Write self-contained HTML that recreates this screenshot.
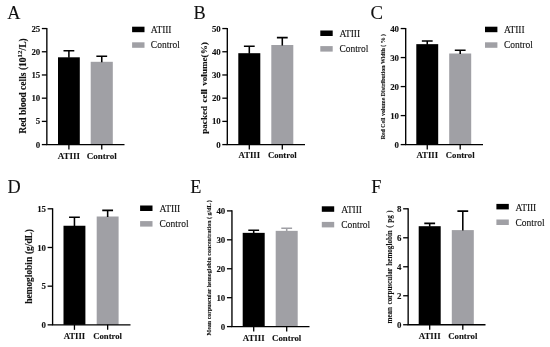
<!DOCTYPE html>
<html><head><meta charset="utf-8"><title>Figure</title>
<style>
html,body{margin:0;padding:0;background:#fff;}
svg{display:block;}
text{stroke:#111;stroke-width:0.1px;font-family:"Liberation Serif","Times New Roman",serif;fill:#111;}
.b{font-weight:bold;}
</style></head><body>
<svg width="550" height="347" viewBox="0 0 550 347">
<rect width="550" height="347" fill="#fff"/>

<g>
<text x="7.2" y="19.05" font-size="18.3">A</text>
<rect x="58.00" y="57.30" width="21.80" height="87.30" fill="#000"/>
<path d="M68.90 57.80V50.75M63.50 50.75H74.30" stroke="#000" stroke-width="1.55" fill="none"/>
<rect x="90.70" y="61.80" width="22.10" height="82.80" fill="#a0a0a5"/>
<path d="M101.75 62.30V56.30M96.35 56.30H107.15" stroke="#000" stroke-width="1.55" fill="none"/>
<path d="M46.85 27.95V145.25M46.35 144.60H124.50" stroke="#000" stroke-width="1.35" fill="none"/>
<path d="M41.85 144.60H46.85" stroke="#000" stroke-width="1.3"/>
<text class="b" x="40.05" y="147.65" font-size="8.9" letter-spacing="-0.15" text-anchor="end">0</text>
<path d="M41.85 121.39H46.85" stroke="#000" stroke-width="1.3"/>
<text class="b" x="40.05" y="124.44" font-size="8.9" letter-spacing="-0.15" text-anchor="end">5</text>
<path d="M41.85 98.18H46.85" stroke="#000" stroke-width="1.3"/>
<text class="b" x="40.05" y="101.23" font-size="8.9" letter-spacing="-0.15" text-anchor="end">10</text>
<path d="M41.85 74.97H46.85" stroke="#000" stroke-width="1.3"/>
<text class="b" x="40.05" y="78.02" font-size="8.9" letter-spacing="-0.15" text-anchor="end">15</text>
<path d="M41.85 51.76H46.85" stroke="#000" stroke-width="1.3"/>
<text class="b" x="40.05" y="54.81" font-size="8.9" letter-spacing="-0.15" text-anchor="end">20</text>
<path d="M41.85 28.55H46.85" stroke="#000" stroke-width="1.3"/>
<text class="b" x="40.05" y="31.60" font-size="8.9" letter-spacing="-0.15" text-anchor="end">25</text>
<path d="M68.90 144.60V149.60" stroke="#000" stroke-width="1.3"/>
<text class="b" x="68.90" y="158.5" font-size="9" text-anchor="middle">ATIII</text>
<path d="M101.75 144.60V149.60" stroke="#000" stroke-width="1.3"/>
<text class="b" x="101.75" y="158.5" font-size="9" text-anchor="middle">Control</text>
<text class="b" transform="translate(26.0 86.0) rotate(-90) scale(1 1)" font-size="9.5" word-spacing="0" text-anchor="middle">Red blood cells (10<tspan font-size="7" dy="-3.7">12</tspan><tspan dy="3.7">/L)</tspan></text>
<rect x="132.1" y="26.7" width="12.4" height="5.5" fill="#000"/>
<rect x="132.1" y="42.3" width="12.4" height="5.5" fill="#a0a0a5"/>
<text x="150.8" y="33.10" font-size="9.5" letter-spacing="-0.1">ATIII</text>
<text x="150.8" y="48.20" font-size="9.5">Control</text>
</g>
<g>
<text x="193.5" y="19.1" font-size="18.3">B</text>
<rect x="238.30" y="53.20" width="22.00" height="91.40" fill="#000"/>
<path d="M249.30 53.70V46.20M243.90 46.20H254.70" stroke="#000" stroke-width="1.55" fill="none"/>
<rect x="271.30" y="45.00" width="22.00" height="99.60" fill="#a0a0a5"/>
<path d="M282.30 45.50V37.60M276.90 37.60H287.70" stroke="#000" stroke-width="1.55" fill="none"/>
<path d="M227.30 27.95V145.25M226.80 144.60H305.00" stroke="#000" stroke-width="1.35" fill="none"/>
<path d="M222.30 144.60H227.30" stroke="#000" stroke-width="1.3"/>
<text class="b" x="220.50" y="147.65" font-size="8.9" letter-spacing="-0.15" text-anchor="end">0</text>
<path d="M222.30 121.39H227.30" stroke="#000" stroke-width="1.3"/>
<text class="b" x="220.50" y="124.44" font-size="8.9" letter-spacing="-0.15" text-anchor="end">10</text>
<path d="M222.30 98.18H227.30" stroke="#000" stroke-width="1.3"/>
<text class="b" x="220.50" y="101.23" font-size="8.9" letter-spacing="-0.15" text-anchor="end">20</text>
<path d="M222.30 74.97H227.30" stroke="#000" stroke-width="1.3"/>
<text class="b" x="220.50" y="78.02" font-size="8.9" letter-spacing="-0.15" text-anchor="end">30</text>
<path d="M222.30 51.76H227.30" stroke="#000" stroke-width="1.3"/>
<text class="b" x="220.50" y="54.81" font-size="8.9" letter-spacing="-0.15" text-anchor="end">40</text>
<path d="M222.30 28.55H227.30" stroke="#000" stroke-width="1.3"/>
<text class="b" x="220.50" y="31.60" font-size="8.9" letter-spacing="-0.15" text-anchor="end">50</text>
<path d="M249.30 144.60V149.60" stroke="#000" stroke-width="1.3"/>
<text class="b" x="249.30" y="158.4" font-size="8.7" text-anchor="middle">ATIII</text>
<path d="M282.30 144.60V149.60" stroke="#000" stroke-width="1.3"/>
<text class="b" x="282.30" y="158.4" font-size="8.7" text-anchor="middle">Control</text>
<text class="b" transform="translate(207 88.0) rotate(-90) scale(1 1)" font-size="9.15" word-spacing="1.2" text-anchor="middle">packed cell volume(%)</text>
<rect x="320.3" y="30.5" width="12.4" height="5.5" fill="#000"/>
<rect x="320.3" y="46.1" width="12.4" height="5.5" fill="#a0a0a5"/>
<text x="339.4" y="36.90" font-size="9.5" letter-spacing="-0.1">ATIII</text>
<text x="339.4" y="52.00" font-size="9.5">Control</text>
</g>
<g>
<text x="370.6" y="19.35" font-size="18.8">C</text>
<rect x="416.30" y="44.15" width="21.90" height="100.45" fill="#000"/>
<path d="M427.25 44.65V41.00M421.85 41.00H432.65" stroke="#000" stroke-width="1.55" fill="none"/>
<rect x="449.20" y="53.50" width="22.00" height="91.10" fill="#a0a0a5"/>
<path d="M460.20 54.00V50.30M454.80 50.30H465.60" stroke="#000" stroke-width="1.55" fill="none"/>
<path d="M405.70 27.95V145.25M405.20 144.60H483.00" stroke="#000" stroke-width="1.35" fill="none"/>
<path d="M400.70 144.60H405.70" stroke="#000" stroke-width="1.3"/>
<text class="b" x="398.90" y="147.65" font-size="8.9" letter-spacing="-0.15" text-anchor="end">0</text>
<path d="M400.70 115.59H405.70" stroke="#000" stroke-width="1.3"/>
<text class="b" x="398.90" y="118.64" font-size="8.9" letter-spacing="-0.15" text-anchor="end">10</text>
<path d="M400.70 86.57H405.70" stroke="#000" stroke-width="1.3"/>
<text class="b" x="398.90" y="89.62" font-size="8.9" letter-spacing="-0.15" text-anchor="end">20</text>
<path d="M400.70 57.56H405.70" stroke="#000" stroke-width="1.3"/>
<text class="b" x="398.90" y="60.61" font-size="8.9" letter-spacing="-0.15" text-anchor="end">30</text>
<path d="M400.70 28.55H405.70" stroke="#000" stroke-width="1.3"/>
<text class="b" x="398.90" y="31.60" font-size="8.9" letter-spacing="-0.15" text-anchor="end">40</text>
<path d="M427.25 144.60V149.60" stroke="#000" stroke-width="1.3"/>
<text class="b" x="427.25" y="158.4" font-size="8.7" text-anchor="middle">ATIII</text>
<path d="M460.20 144.60V149.60" stroke="#000" stroke-width="1.3"/>
<text class="b" x="460.20" y="158.4" font-size="8.7" text-anchor="middle">Control</text>
<text class="b" transform="translate(384.8 86.6) rotate(-90) scale(1 1)" font-size="5.9" word-spacing="0" text-anchor="middle">Red Cell volume Distribution Width ( % )</text>
<rect x="485" y="26.7" width="12.4" height="5.5" fill="#000"/>
<rect x="485" y="42.3" width="12.4" height="5.5" fill="#a0a0a5"/>
<text x="503.9" y="33.10" font-size="9.5" letter-spacing="-0.1">ATIII</text>
<text x="503.9" y="48.20" font-size="9.5">Control</text>
</g>
<g>
<text x="7.4" y="193.15" font-size="18.3">D</text>
<rect x="63.50" y="225.75" width="21.90" height="99.10" fill="#000"/>
<path d="M74.45 226.25V217.25M69.05 217.25H79.85" stroke="#000" stroke-width="1.55" fill="none"/>
<rect x="96.70" y="216.50" width="21.90" height="108.35" fill="#a0a0a5"/>
<path d="M107.65 217.00V210.35M102.25 210.35H113.05" stroke="#000" stroke-width="1.55" fill="none"/>
<path d="M52.60 208.20V325.50M52.10 324.85H130.50" stroke="#000" stroke-width="1.35" fill="none"/>
<path d="M47.60 324.85H52.60" stroke="#000" stroke-width="1.3"/>
<text class="b" x="45.80" y="327.90" font-size="8.9" letter-spacing="-0.15" text-anchor="end">0</text>
<path d="M47.60 286.17H52.60" stroke="#000" stroke-width="1.3"/>
<text class="b" x="45.80" y="289.22" font-size="8.9" letter-spacing="-0.15" text-anchor="end">5</text>
<path d="M47.60 247.48H52.60" stroke="#000" stroke-width="1.3"/>
<text class="b" x="45.80" y="250.53" font-size="8.9" letter-spacing="-0.15" text-anchor="end">10</text>
<path d="M47.60 208.80H52.60" stroke="#000" stroke-width="1.3"/>
<text class="b" x="45.80" y="211.85" font-size="8.9" letter-spacing="-0.15" text-anchor="end">15</text>
<path d="M74.45 324.85V329.85" stroke="#000" stroke-width="1.3"/>
<text class="b" x="74.45" y="338.5" font-size="8.7" text-anchor="middle">ATIII</text>
<path d="M107.65 324.85V329.85" stroke="#000" stroke-width="1.3"/>
<text class="b" x="107.65" y="338.5" font-size="8.7" text-anchor="middle">Control</text>
<text class="b" transform="translate(31.7 266.4) rotate(-90) scale(1 1)" font-size="9.4" word-spacing="0.5" text-anchor="middle">hemoglobin (g/dL)</text>
<rect x="140.1" y="205.5" width="12.4" height="5.5" fill="#000"/>
<rect x="140.1" y="221.1" width="12.4" height="5.5" fill="#a0a0a5"/>
<text x="159.5" y="211.90" font-size="9.5" letter-spacing="-0.1">ATIII</text>
<text x="159.5" y="227.00" font-size="9.5">Control</text>
</g>
<g>
<text x="190.3" y="193.0" font-size="18.3">E</text>
<rect x="242.70" y="232.85" width="22.00" height="93.75" fill="#000"/>
<path d="M253.70 233.35V230.15M248.30 230.15H259.10" stroke="#000" stroke-width="1.55" fill="none"/>
<rect x="275.70" y="230.85" width="22.00" height="95.75" fill="#a0a0a5"/>
<path d="M286.70 231.35V228.25M281.30 228.25H292.10" stroke="#a0a0a5" stroke-width="1.55" fill="none"/>
<path d="M231.95 210.30V327.25M231.45 326.60H309.50" stroke="#000" stroke-width="1.35" fill="none"/>
<path d="M226.95 326.60H231.95" stroke="#000" stroke-width="1.3"/>
<text class="b" x="225.15" y="329.65" font-size="8.9" letter-spacing="-0.15" text-anchor="end">0</text>
<path d="M226.95 297.68H231.95" stroke="#000" stroke-width="1.3"/>
<text class="b" x="225.15" y="300.73" font-size="8.9" letter-spacing="-0.15" text-anchor="end">10</text>
<path d="M226.95 268.75H231.95" stroke="#000" stroke-width="1.3"/>
<text class="b" x="225.15" y="271.80" font-size="8.9" letter-spacing="-0.15" text-anchor="end">20</text>
<path d="M226.95 239.82H231.95" stroke="#000" stroke-width="1.3"/>
<text class="b" x="225.15" y="242.88" font-size="8.9" letter-spacing="-0.15" text-anchor="end">30</text>
<path d="M226.95 210.90H231.95" stroke="#000" stroke-width="1.3"/>
<text class="b" x="225.15" y="213.95" font-size="8.9" letter-spacing="-0.15" text-anchor="end">40</text>
<path d="M253.70 326.60V331.60" stroke="#000" stroke-width="1.3"/>
<text class="b" x="253.70" y="340.9" font-size="8.8" text-anchor="middle">ATIII</text>
<path d="M286.70 326.60V331.60" stroke="#000" stroke-width="1.3"/>
<text class="b" x="286.70" y="340.9" font-size="8.8" text-anchor="middle">Control</text>
<text class="b" transform="translate(211.3 267.9) rotate(-90) scale(1 1)" font-size="6.0" word-spacing="0" text-anchor="middle">Mean corpuscular hemoglobin concentration ( g/dL )</text>
<rect x="321.8" y="206.3" width="12.4" height="5.5" fill="#000"/>
<rect x="321.8" y="221.9" width="12.4" height="5.5" fill="#a0a0a5"/>
<text x="341.2" y="212.70" font-size="9.5" letter-spacing="-0.1">ATIII</text>
<text x="341.2" y="227.80" font-size="9.5">Control</text>
</g>
<g>
<text x="371.2" y="193.25" font-size="18.3">F</text>
<rect x="418.70" y="226.20" width="22.00" height="98.55" fill="#000"/>
<path d="M429.70 226.70V223.35M424.30 223.35H435.10" stroke="#000" stroke-width="1.55" fill="none"/>
<rect x="451.80" y="230.10" width="22.00" height="94.65" fill="#a0a0a5"/>
<path d="M462.80 230.60V211.10M457.40 211.10H468.20" stroke="#000" stroke-width="1.55" fill="none"/>
<path d="M408.15 208.20V325.40M407.65 324.75H485.50" stroke="#000" stroke-width="1.35" fill="none"/>
<path d="M403.15 324.75H408.15" stroke="#000" stroke-width="1.3"/>
<text class="b" x="401.35" y="327.80" font-size="8.9" letter-spacing="-0.15" text-anchor="end">0</text>
<path d="M403.15 295.76H408.15" stroke="#000" stroke-width="1.3"/>
<text class="b" x="401.35" y="298.81" font-size="8.9" letter-spacing="-0.15" text-anchor="end">2</text>
<path d="M403.15 266.77H408.15" stroke="#000" stroke-width="1.3"/>
<text class="b" x="401.35" y="269.82" font-size="8.9" letter-spacing="-0.15" text-anchor="end">4</text>
<path d="M403.15 237.79H408.15" stroke="#000" stroke-width="1.3"/>
<text class="b" x="401.35" y="240.84" font-size="8.9" letter-spacing="-0.15" text-anchor="end">6</text>
<path d="M403.15 208.80H408.15" stroke="#000" stroke-width="1.3"/>
<text class="b" x="401.35" y="211.85" font-size="8.9" letter-spacing="-0.15" text-anchor="end">8</text>
<path d="M429.70 324.75V329.75" stroke="#000" stroke-width="1.3"/>
<text class="b" x="429.70" y="338.5" font-size="8.8" text-anchor="middle">ATIII</text>
<path d="M462.80 324.75V329.75" stroke="#000" stroke-width="1.3"/>
<text class="b" x="462.80" y="338.5" font-size="8.8" text-anchor="middle">Control</text>
<text class="b" transform="translate(392.3 266.9) rotate(-90) scale(0.835 1)" font-size="8.5" word-spacing="0.94" text-anchor="middle">mean corpuscular hemoglobin ( pg )</text>
<rect x="496.4" y="203.9" width="12.4" height="5.5" fill="#000"/>
<rect x="496.4" y="219.5" width="12.4" height="5.5" fill="#a0a0a5"/>
<text x="515.5" y="210.70" font-size="9.5" letter-spacing="-0.1">ATIII</text>
<text x="515.5" y="225.80" font-size="9.5">Control</text>
</g>
</svg></body></html>
